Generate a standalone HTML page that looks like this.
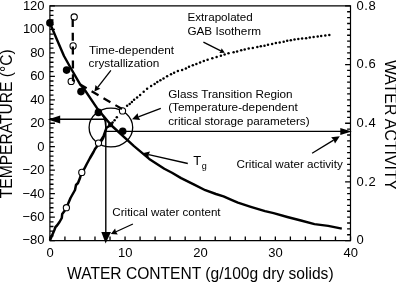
<!DOCTYPE html>
<html><head><meta charset="utf-8"><style>
html,body{margin:0;padding:0;background:#fff;}
svg{display:block;}
text{font-family:"Liberation Sans",Arial,sans-serif;fill:#000;}
</style></head><body>
<svg width="396" height="282" viewBox="0 0 396 282">
<rect width="396" height="282" fill="#fff"/>
<path d="M49.9,5.9 H350.5 V240.6 H49.9 Z" fill="none" stroke="#000" stroke-width="1.2"/>
<path d="M49.9,240.60h5 M49.9,235.91h3.6 M49.9,231.21h3.6 M49.9,226.52h3.6 M49.9,221.82h3.6 M49.9,217.13h5 M49.9,212.44h3.6 M49.9,207.74h3.6 M49.9,203.05h3.6 M49.9,198.35h3.6 M49.9,193.66h5 M49.9,188.97h3.6 M49.9,184.27h3.6 M49.9,179.58h3.6 M49.9,174.88h3.6 M49.9,170.19h5 M49.9,165.50h3.6 M49.9,160.80h3.6 M49.9,156.11h3.6 M49.9,151.41h3.6 M49.9,146.72h5 M49.9,142.03h3.6 M49.9,137.33h3.6 M49.9,132.64h3.6 M49.9,127.94h3.6 M49.9,123.25h5 M49.9,118.56h3.6 M49.9,113.86h3.6 M49.9,109.17h3.6 M49.9,104.47h3.6 M49.9,99.78h5 M49.9,95.09h3.6 M49.9,90.39h3.6 M49.9,85.70h3.6 M49.9,81.00h3.6 M49.9,76.31h5 M49.9,71.62h3.6 M49.9,66.92h3.6 M49.9,62.23h3.6 M49.9,57.53h3.6 M49.9,52.84h5 M49.9,48.15h3.6 M49.9,43.45h3.6 M49.9,38.76h3.6 M49.9,34.06h3.6 M49.9,29.37h5 M49.9,24.68h3.6 M49.9,19.98h3.6 M49.9,15.29h3.6 M49.9,10.59h3.6 M49.9,5.90h5 M350.5,240.60h-5.4 M350.5,234.73h-3.4 M350.5,228.87h-3.4 M350.5,223.00h-3.4 M350.5,217.13h-3.4 M350.5,211.26h-3.4 M350.5,205.39h-3.4 M350.5,199.53h-3.4 M350.5,193.66h-3.4 M350.5,187.79h-3.4 M350.5,181.93h-5.4 M350.5,176.06h-3.4 M350.5,170.19h-3.4 M350.5,164.32h-3.4 M350.5,158.45h-3.4 M350.5,152.59h-3.4 M350.5,146.72h-3.4 M350.5,140.85h-3.4 M350.5,134.99h-3.4 M350.5,129.12h-3.4 M350.5,123.25h-5.4 M350.5,117.38h-3.4 M350.5,111.52h-3.4 M350.5,105.65h-3.4 M350.5,99.78h-3.4 M350.5,93.91h-3.4 M350.5,88.05h-3.4 M350.5,82.18h-3.4 M350.5,76.31h-3.4 M350.5,70.44h-3.4 M350.5,64.58h-5.4 M350.5,58.71h-3.4 M350.5,52.84h-3.4 M350.5,46.97h-3.4 M350.5,41.10h-3.4 M350.5,35.24h-3.4 M350.5,29.37h-3.4 M350.5,23.50h-3.4 M350.5,17.64h-3.4 M350.5,11.77h-3.4 M350.5,5.90h-5.4 M49.90,240.6v-4.2 M64.93,240.6v-4.2 M79.96,240.6v-4.2 M94.99,240.6v-4.2 M110.02,240.6v-4.2 M125.05,240.6v-4.2 M140.08,240.6v-4.2 M155.11,240.6v-4.2 M170.14,240.6v-4.2 M185.17,240.6v-4.2 M200.20,240.6v-4.2 M215.23,240.6v-4.2 M230.26,240.6v-4.2 M245.29,240.6v-4.2 M260.32,240.6v-4.2 M275.35,240.6v-4.2 M290.38,240.6v-4.2 M305.41,240.6v-4.2 M320.44,240.6v-4.2 M335.47,240.6v-4.2 M350.50,240.6v-4.2" fill="none" stroke="#000" stroke-width="1.3"/>
<g font-size="13"><text x="44.6" y="244.4" text-anchor="end">−80</text><text x="44.6" y="220.9" text-anchor="end">−60</text><text x="44.6" y="197.5" text-anchor="end">−40</text><text x="44.6" y="174.0" text-anchor="end">−20</text><text x="44.6" y="150.5" text-anchor="end">0</text><text x="44.6" y="127.0" text-anchor="end">20</text><text x="44.6" y="103.6" text-anchor="end">40</text><text x="44.6" y="80.1" text-anchor="end">60</text><text x="44.6" y="56.6" text-anchor="end">80</text><text x="44.6" y="33.2" text-anchor="end">100</text><text x="44.6" y="9.7" text-anchor="end">120</text><text x="356.4" y="244.2" letter-spacing="0.6">0</text><text x="356.4" y="185.5" letter-spacing="0.6">0.2</text><text x="356.4" y="126.8" letter-spacing="0.6">0.4</text><text x="356.4" y="68.2" letter-spacing="0.6">0.6</text><text x="356.4" y="9.5" letter-spacing="0.6">0.8</text><text x="50.1" y="256.8" text-anchor="middle">0</text><text x="125.3" y="256.8" text-anchor="middle">10</text><text x="200.4" y="256.8" text-anchor="middle">20</text><text x="275.5" y="256.8" text-anchor="middle">30</text><text x="350.7" y="256.8" text-anchor="middle">40</text></g>
<text x="67.0" y="278.9" font-size="15.6">WATER CONTENT (g/100g dry solids)</text>
<text transform="translate(12.2,198.2) rotate(-90)" font-size="15.6">TEMPERATURE (°C)</text>
<text transform="translate(384.9,59.9) rotate(90)" font-size="15.85">WATER ACTIVITY</text>
<text x="89.0" y="54.0" font-size="11.75">Time-dependent</text><text x="88.6" y="66.8" font-size="11.79">crystallization</text><text x="187.5" y="20.8" font-size="11.64">Extrapolated</text><text x="187.4" y="34.5" font-size="11.74">GAB Isotherm</text><text x="168.2" y="97.5" font-size="11.73">Glass Transition Region</text><text x="168.2" y="111.4" font-size="11.78">(Temperature-dependent</text><text x="168.2" y="124.9" font-size="11.68">critical storage parameters)</text><text x="236.5" y="167.9" font-size="11.67">Critical water activity</text><text x="112.35" y="216.1" font-size="11.6">Critical water content</text>
<text x="193.3" y="164.5" font-size="13">T</text><text x="201.7" y="168.9" font-size="9">g</text>
<polyline points="49.9,23 57.1,40 64,56 70.7,68 79.7,83.7 84.8,90 98.2,109.8 111.5,125.5 134,146.1 149.2,158.9 164.3,168.8 172,172.8 181.1,178.1 194.7,184.9 205.3,190.2 215.9,194 223.5,196.3 232,200.1 237.9,202.6 250.8,206.8 265,211.1 273.6,213.2 287.3,217 300.9,220.5 314.5,224.1 328.2,225.9 341.8,228.6" fill="none" stroke="#000" stroke-width="2.4" stroke-linejoin="round"/>
<polyline points="49.9,240.4 54.4,230 55.5,227 57,225.5 59.5,222 61.8,218 62.2,214 64.5,211 66.4,207.7 68,204 70.5,198 75,190 76,185 78,183 80,178 81.7,172.2 84.5,168.5 86.5,164.5 90,158 93.5,152 95,149 96.5,147 98.7,143.3 101.5,139.5 103.8,135.5 105.4,131 106.4,127.8 111,125" fill="none" stroke="#000" stroke-width="2.5" stroke-linejoin="round"/>
<g fill="#000"><circle cx="112.6" cy="122.6" r="1.25"/><circle cx="114.6" cy="120.2" r="1.25"/><circle cx="116.8" cy="117.2" r="1.25"/><circle cx="127.1" cy="105.7" r="1.25"/><circle cx="129.7" cy="103.9" r="1.25"/><circle cx="131.9" cy="102" r="1.25"/><circle cx="134.1" cy="99.8" r="1.25"/><circle cx="137.1" cy="97.5" r="1.25"/><circle cx="140.1" cy="95.1" r="1.25"/><circle cx="143.7" cy="91.7" r="1.25"/><circle cx="147.1" cy="88.8" r="1.25"/><circle cx="151.1" cy="86" r="1.25"/><circle cx="154.6" cy="84" r="1.25"/><circle cx="157.3" cy="82" r="1.25"/><circle cx="160.4" cy="80.2" r="1.25"/><circle cx="163.5" cy="78.4" r="1.25"/><circle cx="167.1" cy="76.2" r="1.25"/><circle cx="171" cy="74.3" r="1.25"/><circle cx="174.1" cy="72.7" r="1.25"/><circle cx="177.9" cy="70.9" r="1.25"/><circle cx="182.1" cy="69.9" r="1.25"/><circle cx="185.9" cy="68.5" r="1.25"/><circle cx="189" cy="66.7" r="1.25"/><circle cx="192.8" cy="65.3" r="1.25"/><circle cx="196.4" cy="63.9" r="1.25"/><circle cx="200.1" cy="62.6" r="1.25"/><circle cx="203.8" cy="61.1" r="1.25"/><circle cx="207.6" cy="59.7" r="1.25"/><circle cx="212.3" cy="58.3" r="1.25"/><circle cx="216.6" cy="57" r="1.25"/><circle cx="220.9" cy="55.7" r="1.25"/><circle cx="224.6" cy="54.4" r="1.25"/><circle cx="228.5" cy="53.2" r="1.25"/><circle cx="233.6" cy="52.2" r="1.25"/><circle cx="237.1" cy="51.4" r="1.25"/><circle cx="241.2" cy="50.2" r="1.25"/><circle cx="244.7" cy="49.4" r="1.25"/><circle cx="248.7" cy="48.6" r="1.25"/><circle cx="252.8" cy="47.9" r="1.25"/><circle cx="257.3" cy="47.1" r="1.25"/><circle cx="260.8" cy="46.3" r="1.25"/><circle cx="264.5" cy="45.7" r="1.25"/><circle cx="268" cy="44.7" r="1.25"/><circle cx="272.1" cy="44" r="1.25"/><circle cx="275.9" cy="43" r="1.25"/><circle cx="279.7" cy="42.4" r="1.25"/><circle cx="283.7" cy="41.7" r="1.25"/><circle cx="287.2" cy="40.8" r="1.25"/><circle cx="290.8" cy="40.3" r="1.25"/><circle cx="294.5" cy="39.6" r="1.25"/><circle cx="298.3" cy="39.1" r="1.25"/><circle cx="302.1" cy="38.6" r="1.25"/><circle cx="306.1" cy="38.3" r="1.25"/><circle cx="309.8" cy="37.6" r="1.25"/><circle cx="313.6" cy="37.1" r="1.25"/><circle cx="317.7" cy="36.6" r="1.25"/><circle cx="321.2" cy="36.1" r="1.25"/><circle cx="325.3" cy="35.6" r="1.25"/><circle cx="329.3" cy="35.1" r="1.25"/></g>
<ellipse cx="110.9" cy="127.5" rx="21.8" ry="19.4" fill="none" stroke="#000" stroke-width="1.3"/>
<path d="M98.4,112.4 A8,15.4 0 0 1 98.5,143.1" fill="none" stroke="#000" stroke-width="1.3"/>
<path d="M104,119.2 H55 M105.8,119 V234 M106,131.4 H341" fill="none" stroke="#000" stroke-width="1.4"/>
<polygon points="47.8,119.6 60.2,115.6 60.2,123.6" fill="#000"/>
<polygon points="351.8,131.5 340.3,128 340.3,135.1" fill="#000"/>
<polygon points="105.6,243.4 101.3,232.1 111,232.1" fill="#000"/>
<line x1="110.9" y1="70.3" x2="97.68" y2="87.29" stroke="#000" stroke-width="1.3"/><polygon points="94.4,91.5 95.52,85.02 97.68,87.29 100.41,88.83" fill="#000"/>
<line x1="203.4" y1="42.2" x2="220.84" y2="50.84" stroke="#000" stroke-width="1.3"/><polygon points="224.8,52.8 219.34,53.00 220.84,50.84 221.65,48.34" fill="#000"/>
<line x1="160.8" y1="108.3" x2="138.37" y2="116.79" stroke="#000" stroke-width="1.3"/><polygon points="132,119.2 137.65,113.21 138.37,116.79 140.20,119.95" fill="#000"/>
<line x1="187.8" y1="163.5" x2="148.67" y2="154.73" stroke="#000" stroke-width="1.3"/><polygon points="142.3,153.3 149.97,151.54 148.67,154.73 148.48,158.17" fill="#000"/>
<line x1="312.1" y1="153.3" x2="333.61" y2="140.10" stroke="#000" stroke-width="1.3"/><polygon points="339.8,136.3 335.00,143.59 333.61,140.10 331.13,137.28" fill="#000"/>
<line x1="132.9" y1="224" x2="115.99" y2="231.73" stroke="#000" stroke-width="1.3"/><polygon points="110.8,234.1 115.11,228.61 115.99,231.73 117.77,234.43" fill="#000"/>
<circle cx="110.6" cy="124.8" r="2.5" fill="#000"/>
<circle cx="49.9" cy="22.9" r="3.8" fill="#000"/><circle cx="66.6" cy="70.1" r="3.8" fill="#000"/><circle cx="81" cy="91.6" r="3.8" fill="#000"/><circle cx="98.4" cy="112.4" r="3.8" fill="#000"/><circle cx="122.7" cy="131.3" r="3.8" fill="#000"/>
<circle cx="74.2" cy="17" r="3.1" fill="#fff" stroke="#000" stroke-width="1.1"/><circle cx="73.1" cy="45.9" r="3.1" fill="#fff" stroke="#000" stroke-width="1.1"/><circle cx="71.2" cy="81.4" r="3.1" fill="#fff" stroke="#000" stroke-width="1.1"/><circle cx="122.5" cy="110.9" r="3.1" fill="#fff" stroke="#000" stroke-width="1.1"/><circle cx="98.5" cy="143.1" r="3.1" fill="#fff" stroke="#000" stroke-width="1.1"/><circle cx="81.8" cy="172.4" r="3.1" fill="#fff" stroke="#000" stroke-width="1.1"/><circle cx="66.4" cy="207.7" r="3.1" fill="#fff" stroke="#000" stroke-width="1.1"/>
<path d="M72.7,19 L73,80.2 L122,109" fill="none" stroke="#000" stroke-width="2.3" stroke-dasharray="8 5.8"/>
</svg>
</body></html>
